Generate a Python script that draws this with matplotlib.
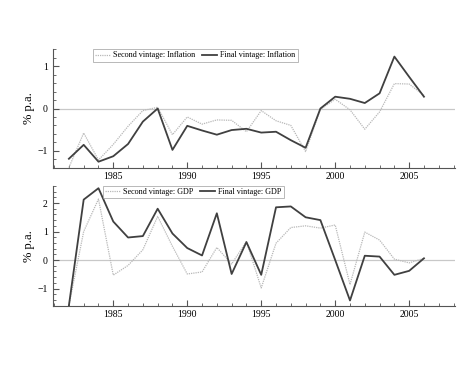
"""Second vs final vintage revisions: inflation and GDP."""

import matplotlib

matplotlib.use("Agg")
import matplotlib.pyplot as plt
import numpy as np
from matplotlib.ticker import MultipleLocator

plt.rcParams["font.family"] = ["Liberation Serif", "DejaVu Serif"]

years = np.arange(1982, 2007)

infl_second = [-1.40, -0.58, -1.22, -0.85, -0.42, -0.05, 0.03, -0.62, -0.20, -0.37,
               -0.27, -0.28, -0.55, -0.05, -0.29, -0.40, -1.02, -0.02, 0.22, -0.03,
               -0.49, -0.08, 0.59, 0.58, 0.31]
infl_final = [-1.19, -0.86, -1.26, -1.13, -0.84, -0.31, 0.00, -0.98, -0.41, -0.52,
              -0.62, -0.51, -0.48, -0.57, -0.55, -0.75, -0.93, 0.00, 0.28, 0.23,
              0.13, 0.36, 1.23, 0.75, 0.28]

gdp_second = [-1.60, 1.00, 2.14, -0.53, -0.19, 0.36, 1.53, 0.48, -0.49, -0.42,
              0.44, -0.14, 0.65, -0.98, 0.59, 1.14, 1.20, 1.12, 1.23, -0.86,
              0.98, 0.70, 0.03, -0.10, 0.06]
gdp_final = [-1.60, 2.12, 2.52, 1.35, 0.79, 0.84, 1.80, 0.93, 0.42, 0.16,
             1.64, -0.49, 0.63, -0.52, 1.85, 1.88, 1.50, 1.40, 0.00, -1.42,
             0.15, 0.12, -0.52, -0.38, 0.06]

# name, series, y-limits, axes rect, legend centre (axes x)
panels = [
    ("Inflation", infl_second, infl_final, (-1.4, 1.4), [0.111, 0.542, 0.849, 0.323], 0.355),
    ("GDP", gdp_second, gdp_final, (-1.6, 2.6), [0.111, 0.165, 0.849, 0.327], 0.35),
]

fig = plt.figure(figsize=(4.74, 3.66), dpi=100)

for name, second, final, ylim, rect, leg_x in panels:
    ax = fig.add_axes(rect)
    ax.axhline(0, color="#c8c8c8", linewidth=0.9, zorder=1)
    ax.plot(years, second, color="#b8b8b8", linestyle=(0, (1, 0.8)), linewidth=0.9,
            label=f"Second vintage: {name}", zorder=2)
    ax.plot(years, final, color="#404040", linewidth=1.3,
            label=f"Final vintage: {name}", zorder=3)

    ax.set_xlim(1980.9, 2008.1)
    ax.set_ylim(*ylim)
    ax.xaxis.set_major_locator(MultipleLocator(5))
    ax.xaxis.set_minor_locator(MultipleLocator(1))
    ax.yaxis.set_major_locator(MultipleLocator(1))
    ax.yaxis.set_minor_locator(MultipleLocator(0.2))
    ax.tick_params(which="both", direction="in", labelsize=7, color="#555555")
    ax.tick_params(which="major", length=4)
    ax.tick_params(which="minor", length=2)
    ax.set_yticks([t for t in ax.get_yticks() if ylim[0] <= t <= ylim[1]])
    ax.set_yticklabels([f"{int(t)}" if t >= 0 else f"\u2212{int(-t)}" for t in ax.get_yticks()])
    for side in ("top", "right"):
        ax.spines[side].set_visible(False)
    for side in ("left", "bottom"):
        ax.spines[side].set_color("#555555")
        ax.spines[side].set_linewidth(0.8)
    ax.set_ylabel("% p.a.", fontsize=9)
    ax.yaxis.set_label_coords(-0.045, 0.5)

    leg = ax.legend(loc="upper center", bbox_to_anchor=(leg_x, 1.0),
                    ncol=2, fontsize=5.9, frameon=True, fancybox=False,
                    borderpad=0.25, handlelength=1.8, columnspacing=0.8,
                    handletextpad=0.4, borderaxespad=0.0)
    leg.get_frame().set_edgecolor("#999999")
    leg.get_frame().set_linewidth(0.6)

fig.savefig("out.png", dpi=100)
